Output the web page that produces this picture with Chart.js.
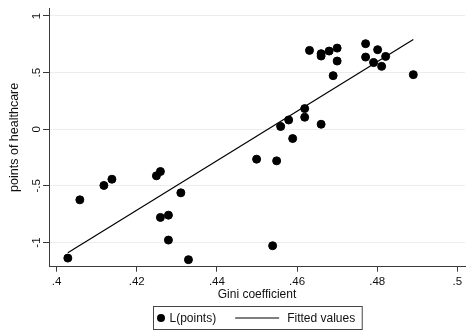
<!DOCTYPE html>
<html><head><meta charset="utf-8">
<script src="https://cdn.jsdelivr.net/npm/chart.js@4"></script>
<style>html,body{margin:0;padding:0;background:#fff}</style>
</head><body>
<canvas id="c" width="474" height="335"></canvas>
<script>
// ---- data ----
const giniValues = [0.4631,0.4660,0.4660,0.4680,0.4700,0.4700,0.4690,0.4771,0.4771,0.4801,0.4791,0.4811,0.4821,0.4890,
  0.4619,0.4579,0.4619,0.4559,0.4660,0.4589,0.4499,0.4549,0.4138,0.4118,0.4249,0.4259,0.4058,0.4310,0.4259,0.4279,0.4279,0.4539,0.4028,0.4329];
const healthPoints = [0.696,0.667,0.646,0.690,0.716,0.602,0.473,0.755,0.637,0.702,0.588,0.555,0.643,0.482,
  0.182,0.082,0.106,0.024,0.044,-0.082,-0.264,-0.279,-0.441,-0.496,-0.411,-0.373,-0.623,-0.561,-0.778,-0.758,-0.978,-1.028,-1.137,-1.151];
const fittedX = [0.4028, 0.4890];
const fittedY = [-1.090, 0.793];
const xTicks = [0.4,0.42,0.44,0.46,0.48,0.5];
const xTickLabels = ['.4','.42','.44','.46','.48','.5'];
const yTicks = [-1,-0.5,0,0.5,1];
const yTickLabels = ['-1','-.5','0','.5','1'];
const seriesLabels = ['L(points)','Fitted values'];
const xTitle = 'Gini coefficient';
const yTitle = 'points of healthcare';

const FONT = '"Liberation Sans", Arial, sans-serif';
const AXIS = '#3a3a3a';

const yLabelPlugin = {
  id: 'yLabels',
  afterDraw(chart) {
    const s = chart.scales.y, ctx = chart.ctx;
    ctx.save();
    ctx.font = '11.5px ' + FONT;
    ctx.fillStyle = '#111';
    ctx.textAlign = 'center';
    ctx.textBaseline = 'middle';
    s.ticks.forEach((t) => {
      const y = s.getPixelForValue(t.value);
      ctx.save();
      ctx.translate(37, y);
      ctx.rotate(-Math.PI / 2);
      ctx.fillText(yTickLabels[yTicks.indexOf(t.value)], 0, 0);
      ctx.restore();
    });
    ctx.restore();
  }
};

const legendPlugin = {
  id: 'boxLegend',
  afterDraw(chart) {
    const ctx = chart.ctx, ca = chart.chartArea;
    ctx.save();
    ctx.font = '12px ' + FONT;
    const t1 = ctx.measureText(seriesLabels[0]).width;
    const t2 = ctx.measureText(seriesLabels[1]).width;
    const w = 16 + t1 + 19 + 44 + 8 + t2 + 7;
    const left = Math.round((ca.left + ca.right) / 2 - w / 2) + 0.5;
    const top = 306.5, h = 23;
    ctx.strokeStyle = '#444';
    ctx.lineWidth = 1;
    ctx.strokeRect(left, top, w, h);
    const cy = top + h / 2;
    ctx.fillStyle = '#000';
    ctx.beginPath();
    ctx.arc(left + 7.5, cy, 4, 0, Math.PI * 2);
    ctx.fill();
    ctx.textBaseline = 'middle';
    ctx.textAlign = 'left';
    ctx.fillStyle = '#111';
    ctx.fillText(seriesLabels[0], left + 16, cy + 1);
    const ls = left + 16 + t1 + 19;
    ctx.strokeStyle = '#000';
    ctx.lineWidth = 1.2;
    ctx.beginPath();
    ctx.moveTo(ls, cy); ctx.lineTo(ls + 44, cy); ctx.stroke();
    ctx.fillText(seriesLabels[1], ls + 52, cy + 1);
    ctx.restore();
  }
};

new Chart(document.getElementById('c'), {
  data: {
    datasets: [
      {
        type: 'scatter',
        label: seriesLabels[0],
        data: giniValues.map((x, i) => ({x, y: healthPoints[i]})),
        backgroundColor: '#000',
        borderColor: '#000',
        borderWidth: 1,
        pointRadius: 4,
        pointHoverRadius: 4,
        order: 2
      },
      {
        type: 'line',
        label: seriesLabels[1],
        data: fittedX.map((x, i) => ({x, y: fittedY[i]})),
        borderColor: '#000',
        borderWidth: 1.2,
        pointRadius: 0,
        fill: false,
        order: 1
      }
    ]
  },
  options: {
    responsive: false,
    animation: false,
    events: [],
    layout: { padding: { left: 0, top: 8, right: 9, bottom: 28.3 } },
    plugins: { legend: { display: false }, tooltip: { enabled: false } },
    scales: {
      x: {
        type: 'linear',
        min: 0.3981, max: 0.5019,
        afterBuildTicks: s => { s.ticks = xTicks.map(v => ({value: v})); },
        afterFit: s => { s.height = 40; },
        grid: { drawOnChartArea: false, tickLength: 5, tickColor: AXIS, lineWidth: 1 },
        border: { color: AXIS, width: 1 },
        ticks: {
          autoSkip: false, maxRotation: 0, minRotation: 0, padding: 3,
          color: '#111', font: { family: FONT, size: 11.5 },
          callback: v => xTickLabels[xTicks.indexOf(v)]
        },
        title: { display: true, text: xTitle, color: '#111', font: { family: FONT, size: 12 }, padding: { top: 0, bottom: 5 } }
      },
      y: {
        type: 'linear',
        min: -1.213, max: 1.07,
        afterBuildTicks: s => { s.ticks = yTicks.map(v => ({value: v})); },
        afterFit: s => { s.width = 49; },
        grid: { color: '#ececec', lineWidth: 1, tickLength: 6, tickColor: AXIS },
        border: { color: AXIS, width: 1 },
        ticks: { display: false },
        title: { display: true, text: yTitle, color: '#111', font: { family: FONT, size: 12.5 }, padding: { top: 7, bottom: 0 } }
      }
    }
  },
  plugins: [yLabelPlugin, legendPlugin]
});
</script>
</body></html>
